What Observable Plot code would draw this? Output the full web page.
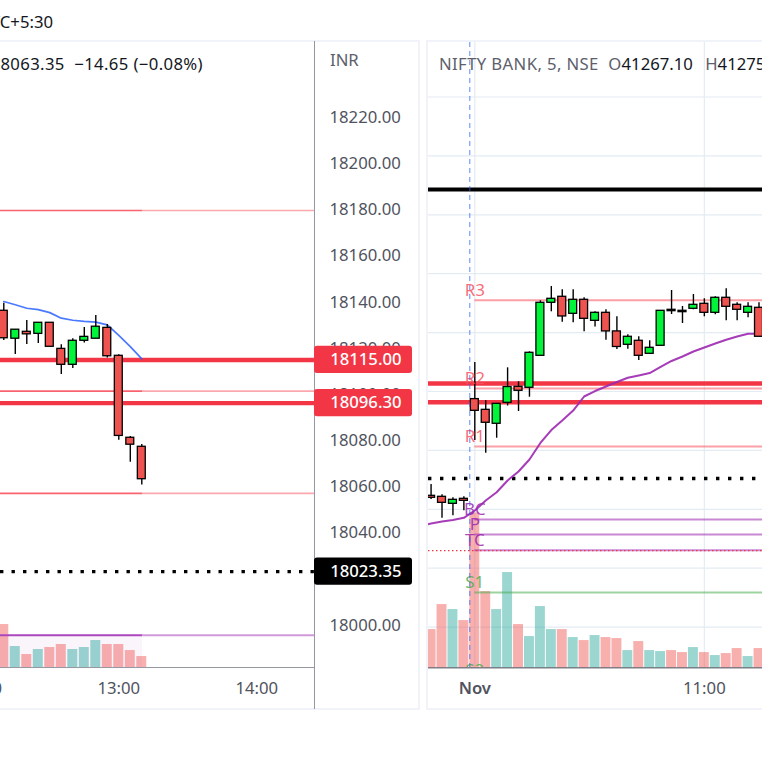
<!DOCTYPE html>
<html>
<head>
<meta charset="utf-8">
<script src="https://cdn.jsdelivr.net/npm/d3@7"></script>
<script src="https://cdn.jsdelivr.net/npm/@observablehq/plot@0.6"></script>
<style>
html,body{margin:0;padding:0;background:#fff;overflow:hidden}
#stage{position:relative;width:762px;height:762px;overflow:hidden;font-family:"Noto Sans",sans-serif;font-size:16.7px}
.frame{position:absolute;box-sizing:border-box;border:2px solid #f0f3fa}
.chart{position:absolute;top:0}
.chart svg{display:block;overflow:hidden}
.hdr{position:absolute;white-space:pre;line-height:20px;color:#131722}
.grey{color:#5d606b}
</style>
</head>
<body>
<div id="stage">
  <div class="frame" style="left:-4px;top:40px;width:424px;height:670px"></div>
  <div class="frame" style="left:426px;top:40px;width:340px;height:670px"></div>
  <div class="chart" id="left" style="left:0"></div>
  <div class="chart" id="right" style="left:428px"></div>
  <div class="hdr" style="right:709px;top:12px">UTC+5:30</div>
  <div class="hdr" style="right:559px;top:54px;letter-spacing:.38px">18063.35  −14.65 (−0.08%)</div>
  <div class="hdr grey" style="left:330px;top:50px">INR</div>
  <div class="hdr" style="left:439px;top:54px"><span class="grey" style="letter-spacing:.38px">NIFTY BANK, 5, NSE  O</span>41267.10 <span class="grey" style="margin-left:8px">H</span>41275.35</div>
</div>
<script>
// ---------- left panel (NIFTY 50, 5 minute bars; time in minutes after midnight)
const leftMinutes = [730,735,740,745,750,755,760,765,770,775,780,785,790];
const leftOpen  = [18136.3,18124.2,18127.2,18126.3,18131.1,18119.8,18112.9,18123.3,18124.2,18128.9,18116.8,18081.3,18077.4];
const leftHigh  = [18139.6,18128.1,18132.1,18131.1,18131.1,18121.6,18124.2,18129.1,18134.2,18130.4,18117.2,18081.8,18078.4];
const leftLow   = [18123.4,18117.4,18121.7,18122.1,18120.7,18108.7,18111.3,18122.3,18124.2,18115.9,18080.2,18070.7,18060.8];
const leftClose = [18124.4,18128.1,18126.1,18131.1,18120.7,18112.9,18123.3,18125.0,18129.4,18116.6,18082.1,18078.3,18063.35];
const leftEma   = [18140.3,18138.9,18137.4,18136.8,18135.5,18133.1,18132.2,18131.7,18131.4,18130.2,18125.6,18120.8,18115.5];
const leftVolume = [43,21,13,18,20,23,18,20,27,23,23,17,11];
const leftTicks = [18220,18200,18180,18160,18140,18120,18100,18080,18060,18040,18000];
const leftTimeTicks = [720,780,840];
const leftRedLevels = [18179.7,18101.5,18057.2];
const leftPurpleLevels = [17995.8];
const leftThickLevels = [18115.0,18096.3];
const leftDottedLevels = [18023.35];

// ---------- right panel (NIFTY BANK, 5 minute bars; bar number from the 9:15 open)
const rightBars = d3.range(-4,27);
const rightOpen  = [41102.9,41101.2,41089.3,41097.8,41267.1,41248.9,41225.2,41260.8,41288.0,41286.3,41340.6,41430.6,41440.8,41411.9,41435.7,41400.0,41413.6,41382.0,41359.3,41366.1,41344.0,41357.6,41418.7,41417.0,41420.4,41428.9,41413.6,41439.1,41427.2,41413.6,41422.1];
const rightHigh  = [41122.1,41104.6,41099.5,41101.2,41329.2,41264.7,41259.1,41320.2,41296.5,41347.4,41434.0,41458.3,41452.7,41452.7,41439.1,41415.3,41418.7,41406.8,41376.3,41372.9,41366.1,41417.0,41451.5,41424.3,41444.7,41437.4,41440.8,41454.4,41430.6,41430.6,41430.6];
const rightLow   = [41096.6,41064.9,41068.9,41077.4,41196.8,41175.2,41200.7,41255.4,41246.0,41270.3,41340.6,41415.3,41397.7,41396.7,41381.4,41389.5,41367.1,41351.3,41351.8,41332.6,41344.0,41357.6,41410.7,41395.5,41418.7,41406.8,41410.2,41400.0,41400.0,41405.1,41372.9];
const rightClose = [41099.5,41091.0,41096.1,41094.4,41247.2,41226.9,41259.1,41287.6,41281.2,41345.7,41430.6,41437.4,41407.4,41435.7,41403.4,41413.6,41382.0,41355.6,41372.9,41340.6,41354.2,41417.0,41416.4,41414.7,41427.2,41413.6,41439.1,41423.8,41418.7,41423.8,41372.9];
const rightVolume = [38.3,63.3,58.3,47.3,155,76.3,58.3,95.3,43.3,31.3,61.3,38.3,38.3,30.3,27.3,32.3,30.3,29.3,17.3,26.3,17.3,16.3,17.3,15.3,20.3,15.3,12.3,14.3,19.3,11.3,19.3];
const rightAvgBars = d3.range(-5,27);
const rightAvg = [41051.6,41055.9,41059.3,41061.8,41065.5,41077.9,41094.9,41109.0,41128.9,41144.2,41164.5,41192.6,41214.6,41230.8,41247.7,41271.5,41280.8,41288.5,41296.1,41303.3,41307.2,41311.4,41321.6,41331.8,41339.4,41347.9,41354.7,41361.5,41367.8,41373.4,41378.0,41378.0];
const rightGrid = [40880,40980,41080,41180,41280,41380,41480,41580,41680,41780];
const rightPivotNames  = ["R3","R2","R1","BC","P","TC","S1","S2"];
const rightPivotValues = [41435,41285.1,41186.6,41062.7,41037.2,41010.5,40938.7,40789.3];
const rightPivotColors = ["#f7525f","#f7525f","#f7525f","#9c27b0","#9c27b0","#9c27b0","#4caf50","#4caf50"];
const rightThickLevels = [41293.6,41261.8];
const rightBlackLevels = [41623];
const rightDottedLevels = [41132.3];
const rightRedDotted = [41010];
const rightCrosshair = [-0.457];
const rightGridBars = [0,21];

const RED = "#ef5350", GREEN = "#00f53a", VRED = "#ef5350", VGREEN = "#26a69a";
const FONT = "Noto Sans, sans-serif";
const TXT = "#50535e";
const style = {fontFamily: FONT, fontSize: "16.7px", background: "transparent", overflow: "hidden"};
const table = (xs, o, h, l, c, v) => xs.map((x, i) => ({x, o: o[i], h: h[i], l: l[i], c: c[i], v: v[i]}));
const candleMarks = (rows, half, sw) => [
  Plot.ruleX(rows, {x: "x", y1: "l", y2: "h", stroke: "#000", strokeWidth: 1.4}),
  Plot.rect(rows, {
    x1: d => d.x - half, x2: d => d.x + half,
    y1: d => Math.min(d.o, d.c), y2: d => Math.max(d.o, d.c),
    fill: d => d.c >= d.o ? GREEN : RED, stroke: "#000", strokeWidth: sw
  })
];
const volumeMarks = (rows, half, base, unit) => Plot.rect(rows, {
  x1: d => d.x - half, x2: d => d.x + half,
  y1: () => base, y2: d => base + d.v * unit,
  fill: d => d.c >= d.o ? VGREEN : VRED, fillOpacity: 0.46
});

// ---------- left chart
{
  const rows = table(leftMinutes, leftOpen, leftHigh, leftLow, leftClose, leftVolume);
  const unit = 220 / 508;                 // price points per pixel of the price scale
  const base = 17981.8;
  const t0 = 728.57, t1 = 865.09, tLast = 790.3;
  const pillEnd = 907.7, pillText = 871.9, pillHalf = 5.9;
  const pills = [
    {p: 18115.00, fill: "#f23645"},
    {p: 18096.30, fill: "#f23645"},
    {p: 18023.35, fill: "#000000"}
  ];
  const fromTo = (a, b) => ({x1: () => a, x2: () => b});
  const chart = Plot.plot({
    width: 420, height: 709,
    marginLeft: 0, marginRight: 106, marginTop: 42, marginBottom: 42,
    style,
    x: {domain: [t0, t1], range: [0, 314]},
    y: {domain: [18220, 18000], range: [117, 625]},
    marks: [
      Plot.rect([0], {x1: () => t0, x2: () => tLast, y1: () => base, y2: () => leftPurpleLevels[0], fill: "#9c27b0", fillOpacity: 0.05}),
      volumeMarks(rows, 2.17, base, unit),
      Plot.ruleY(leftRedLevels, {...fromTo(tLast, t1), stroke: "#f7525f", strokeOpacity: 0.5, strokeWidth: 1.6}),
      Plot.ruleY(leftRedLevels, {...fromTo(t0, tLast), stroke: "#f7525f", strokeOpacity: 0.9, strokeWidth: 1.6}),
      Plot.ruleY(leftPurpleLevels, {...fromTo(tLast, t1), stroke: "#ab47bc", strokeOpacity: 0.55, strokeWidth: 2}),
      Plot.ruleY(leftPurpleLevels, {...fromTo(t0, tLast), stroke: "#ab47bc", strokeWidth: 2}),
      Plot.ruleY(leftThickLevels, {...fromTo(t0, t1), stroke: "#f23645", strokeWidth: 4.4}),
      Plot.ruleY(leftDottedLevels, {...fromTo(t0, t1), stroke: "#000", strokeWidth: 3.4, strokeDasharray: "3.4 8.1"}),
      Plot.ruleY([base], {...fromTo(t0, t1), stroke: "#9598a1", strokeWidth: 1}),
      Plot.line(leftMinutes, {x: d => d, y: (d, i) => leftEma[i], stroke: "#2962ff", strokeOpacity: 0.85, strokeWidth: 1.7, curve: "linear"}),
      ...candleMarks(rows, 1.72, 1.3),
      Plot.axisY({ticks: leftTicks, anchor: "right", tickSize: 0, tickPadding: 15, tickFormat: d => d.toFixed(2), fill: TXT, label: null}),
      Plot.axisX({ticks: leftTimeTicks, anchor: "bottom", tickSize: 0, tickPadding: 15, fill: TXT, label: null,
        tickFormat: m => `${Math.floor(m / 60)}:${String(m % 60).padStart(2, "0")}`}),
      Plot.ruleX([t1], {y1: () => 18252.9, y2: () => 17963.6, stroke: "#9598a1", strokeWidth: 1}),
      Plot.rect(pills, {x1: () => t1, x2: () => pillEnd, y1: d => d.p - pillHalf, y2: d => d.p + pillHalf, fill: "fill", rx: 3}),
      Plot.text(pills, {x: () => pillText, y: "p", text: d => d.p.toFixed(2), fill: "#fff", textAnchor: "start", fontWeight: 500})
    ]
  });
  document.getElementById("left").append(chart);
}

// ---------- right chart
{
  const rows = table(rightBars, rightOpen, rightHigh, rightLow, rightClose, rightVolume);
  const unit = 900 / 530.1;
  const base = 40810.8;
  const i0 = -4.236, i1 = 26.32;
  const pivots = rightPivotNames.map((name, i) => ({name, p: rightPivotValues[i], color: rightPivotColors[i]}));
  const fromTo = (a, b) => ({x1: () => a, x2: () => b});
  const chart = Plot.plot({
    width: 334, height: 709,
    marginLeft: 0, marginRight: 0, marginTop: 42, marginBottom: 42,
    style,
    x: {domain: [i0, i1], range: [0, 334]},
    y: {domain: [41780, 40880], range: [96.5, 626.6]},
    marks: [
      Plot.ruleY(rightGrid, {stroke: "#e3ecf3", strokeWidth: 1.2}),
      Plot.ruleX(rightGridBars, {stroke: "#e3ecf3", strokeWidth: 1.2}),
      volumeMarks(rows, 0.455, base, unit),
      Plot.ruleY(pivots, {y: "p", ...fromTo(0, i1), stroke: "color", strokeOpacity: 0.55, strokeWidth: 2, clip: true}),
      Plot.ruleY(rightRedDotted, {...fromTo(i0, i1), stroke: "#f23645", strokeWidth: 1.2, strokeDasharray: "1.5 2.5"}),
      Plot.ruleY(rightThickLevels, {...fromTo(i0, i1), stroke: "#f23645", strokeWidth: 4.4}),
      Plot.ruleY(rightBlackLevels, {...fromTo(i0, i1), stroke: "#000", strokeWidth: 3.9}),
      Plot.ruleY(rightDottedLevels, {...fromTo(i0, i1), stroke: "#000", strokeWidth: 3.4, strokeDasharray: "3.4 8.6"}),
      Plot.ruleY([base], {...fromTo(i0, i1), stroke: "#434651", strokeWidth: 1}),
      Plot.line(rightAvgBars, {x: d => d, y: (d, i) => rightAvg[i], stroke: "#9c27b0", strokeOpacity: 0.9, strokeWidth: 2, clip: true}),
      ...candleMarks(rows, 0.364, 1.3),
      Plot.text(pivots, {x: () => 0, y: "p", text: "name", fill: "color", fillOpacity: 0.85, dy: -9.5, clip: true, fontSize: 17}),
      Plot.ruleX(rightCrosshair, {stroke: "#2962ff", strokeOpacity: 0.75, strokeWidth: 1, strokeDasharray: "5 4"}),
      Plot.axisX({ticks: [21], anchor: "bottom", tickSize: 0, tickPadding: 15, fill: TXT, label: null, tickFormat: () => "11:00"}),
      Plot.axisX({ticks: [0], anchor: "bottom", tickSize: 0, tickPadding: 15, fill: TXT, label: null, fontWeight: 600, tickFormat: () => "Nov"})
    ]
  });
  document.getElementById("right").append(chart);
}
</script>
</body>
</html>
